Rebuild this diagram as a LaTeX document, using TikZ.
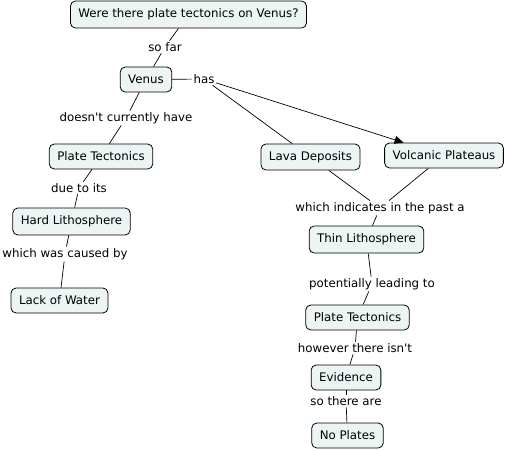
\documentclass[tikz,border=0pt]{standalone}
\usepackage{fontspec}
\setmainfont{DejaVu Sans}
\usepackage{tikz}
\usetikzlibrary{arrows.meta, positioning}
\definecolor{conceptbg}{RGB}{237, 244, 244}

\begin{document}
\begin{tikzpicture}[
          x=1pt, y=-1pt,
          concept/.style={draw, rounded corners=5pt, minimum height=25pt, inner xsep=8pt,
                      font=\fontsize{11.8}{14}\selectfont, fill=conceptbg, line width=0.8pt},
          phrase/.style={inner sep=1.5pt, font=\fontsize{11.8}{14}\selectfont},
          link/.style={line width=0.7pt},
          arr/.style={-{Triangle[length=9pt, width=8pt]}, line width=0.7pt},
        ]
        \useasboundingbox (0,0) rectangle (508,450);

        % concepts
        \node[concept, minimum height=27pt] (question) at (188.5,14.5) {Were there plate tectonics on Venus?};
        \node[concept] (venus)    at (146,79.5)   {Venus};
        \node[concept] (ptleft)   at (101,156.5)  {Plate Tectonics};
        \node[concept, minimum height=27pt] (hard) at (71.5,221.5) {Hard Lithosphere};
        \node[concept] (lack)     at (59.5,300.5) {Lack of Water};
        \node[concept, minimum height=26pt] (lava) at (310.5,157) {Lava Deposits};
        \node[concept] (plateaus) at (444,155.5)  {Volcanic Plateaus};
        \node[concept, minimum height=27pt] (thin) at (366.5,239.5) {Thin Lithosphere};
        \node[concept] (ptright)  at (357.5,317.5) {Plate Tectonics};
        \node[concept] (evidence) at (346,377.5)  {Evidence};
        \node[concept] (noplates) at (347.5,435.5) {No Plates};

        % linking phrases
        \node[phrase] (sofar)    at (165,47)   {so far};
        \node[phrase] (has)      at (204,79)   {has};
        \node[phrase] (doesnt)   at (126,118)  {doesn\textquotesingle t currently have};
        \node[phrase] (dueto)    at (79,188)   {due to its};
        \node[phrase] (caused)   at (65,254)   {which was caused by};
        \node[phrase] (indicates) at (380,208) {which indicates in the past a};
        \node[phrase] (leading)  at (372,284)  {potentially leading to};
        \node[phrase] (however)  at (355,348)  {however there isn\textquotesingle t};
        \node[phrase] (sothere)  at (346,401)  {so there are};

        \draw[link] (question) -- (sofar);
        \draw[link] (sofar)    -- (venus);
        \draw[link] (venus)    -- (has);
        \draw[link] (has)      -- (lava);
        \draw[arr]  (has)      -- (plateaus);
        \draw[link] (venus)    -- (doesnt);
        \draw[link] (doesnt)   -- (ptleft);
        \draw[link] (ptleft)   -- (dueto);
        \draw[link] (dueto)    -- (hard);
        \draw[link] (hard)     -- (caused);
        \draw[link] (caused)   -- (lack);
        \draw[link] (lava)     -- (indicates);
        \draw[link] (plateaus) -- (indicates);
        \draw[link] (indicates) -- (thin);
        \draw[link] (thin)     -- (leading);
        \draw[link] (leading)  -- (ptright);
        \draw[link] (ptright)  -- (however);
        \draw[link] (however)  -- (evidence);
        \draw[link] (evidence) -- (sothere);
        \draw[link] (sothere)  -- (noplates);
      \end{tikzpicture}
\end{document}
